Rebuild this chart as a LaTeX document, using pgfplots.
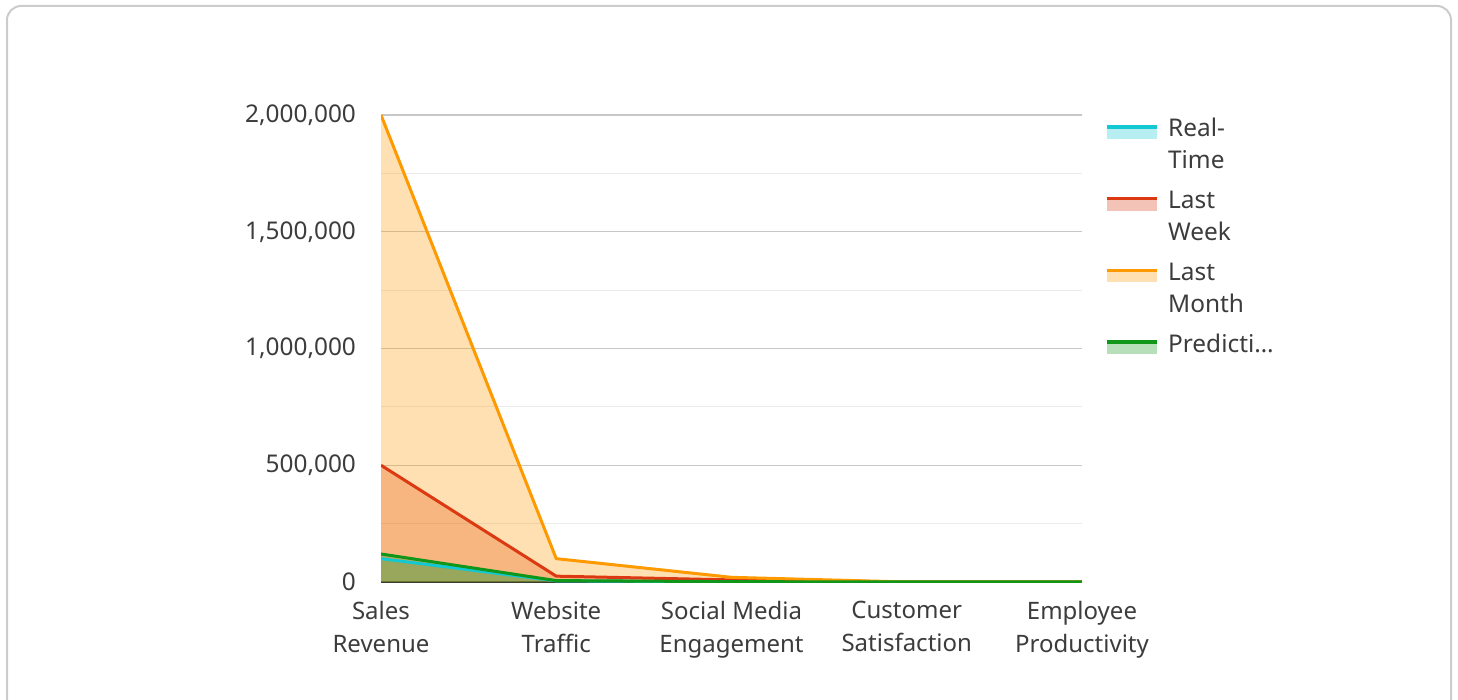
\documentclass[border=0pt]{standalone}
\usepackage{pgfplots}
\pgfplotsset{compat=1.18}
\usepackage{fontspec}
\setmainfont{Noto Sans}
\definecolor{txt}{HTML}{3C3C3C}
\definecolor{cRT}{HTML}{12C8D2}
\definecolor{cLW}{HTML}{DC3912}
\definecolor{cLM}{HTML}{FF9900}
\definecolor{cPR}{HTML}{109618}
\newcommand\lfont{\fontsize{12.2}{16}\selectfont}
\begin{document}
\begin{tikzpicture}
\useasboundingbox (0,0) rectangle (729pt,-350pt);
\draw[black!20, line width=1pt, rounded corners=7pt] (3.5pt,-3pt) rectangle (725.5pt,-380pt);
\begin{axis}[
  at={(190.5pt,-291pt)}, anchor=south west,
  scale only axis, width=350.5pt, height=233.5pt,
  xmin=0, xmax=4, ymin=0, ymax=2000000,
  axis x line*=bottom, axis y line*=left,
  x axis line style={draw=black!80, line width=1pt},
  y axis line style={draw=none},
  xtick={0,1,2,3,4},
  xticklabels={{Sales\\Revenue},{Website\\Traffic},{Social Media\\Engagement},{Customer\\Satisfaction},{Employee\\Productivity}},
  xticklabel style={align=center, font=\fontsize{12}{16.5}\selectfont, text=txt, yshift=-6pt},
  ytick={0,500000,1000000,1500000,2000000},
  minor ytick={250000,750000,1250000,1750000},
  yticklabel style={font=\lfont, text=txt, xshift=-9pt},
  major tick length=0pt, minor tick length=0pt,
  scaled y ticks=false,
  /pgf/number format/.cd, fixed, 1000 sep={,}, assume math mode=true,
  /pgfplots/.cd,
  ymajorgrids, yminorgrids,
  major grid style={draw=black!22, line width=0.6pt},
  minor grid style={draw=black!8, line width=0.6pt},
  legimg/.style={legend image code/.code={
    \path[draw=none, fill=#1, fill opacity=0.3] (0pt,-7.2pt) rectangle (25pt,-12.4pt);
    \draw[draw=#1, line width=1.8pt] (0pt,-6.4pt) -- (25pt,-6.4pt);
  }},
  legend cell align=left,
  legend style={draw=none, fill=none, at={(1.0330,1.003)}, anchor=north west,
    font=\lfont, text=txt, inner sep=0pt,
    nodes={inner sep=0pt, anchor=north west},
    cells={anchor=north west, align=left}, row sep=7pt, column sep=4.5pt},
  fillst/.style={draw=none, fill=#1, fill opacity=0.3, forget plot},
  linest/.style={draw=#1, line width=1.5pt, legimg=#1},
]
% fills first
\addplot[fillst=cRT] coordinates {(0,100000) (1,5000) (2,1000) (3,85) (4,90)} \closedcycle;
\addplot[fillst=cLW] coordinates {(0,500000) (1,25000) (2,9000) (3,90) (4,88)} \closedcycle;
\addplot[fillst=cLM] coordinates {(0,2000000) (1,100000) (2,20000) (3,88) (4,87)} \closedcycle;
\addplot[fillst=cPR] coordinates {(0,120000) (1,6000) (2,1500) (3,92) (4,92)} \closedcycle;
% lines on top
\addplot[linest=cRT] coordinates {(0,100000) (1,5000) (2,1000) (3,85) (4,90)};
\addplot[linest=cLW] coordinates {(0,500000) (1,25000) (2,9000) (3,90) (4,88)};
\addplot[linest=cLM] coordinates {(0,2000000) (1,100000) (2,20000) (3,88) (4,87)};
\addplot[linest=cPR] coordinates {(0,120000) (1,6000) (2,1500) (3,92) (4,92)};
\legend{{\strut Real-\\Time\strut},{\strut Last\\Week\strut},{\strut Last\\Month\strut},{\strut Predicti…}}
\end{axis}
\end{tikzpicture}
\end{document}
